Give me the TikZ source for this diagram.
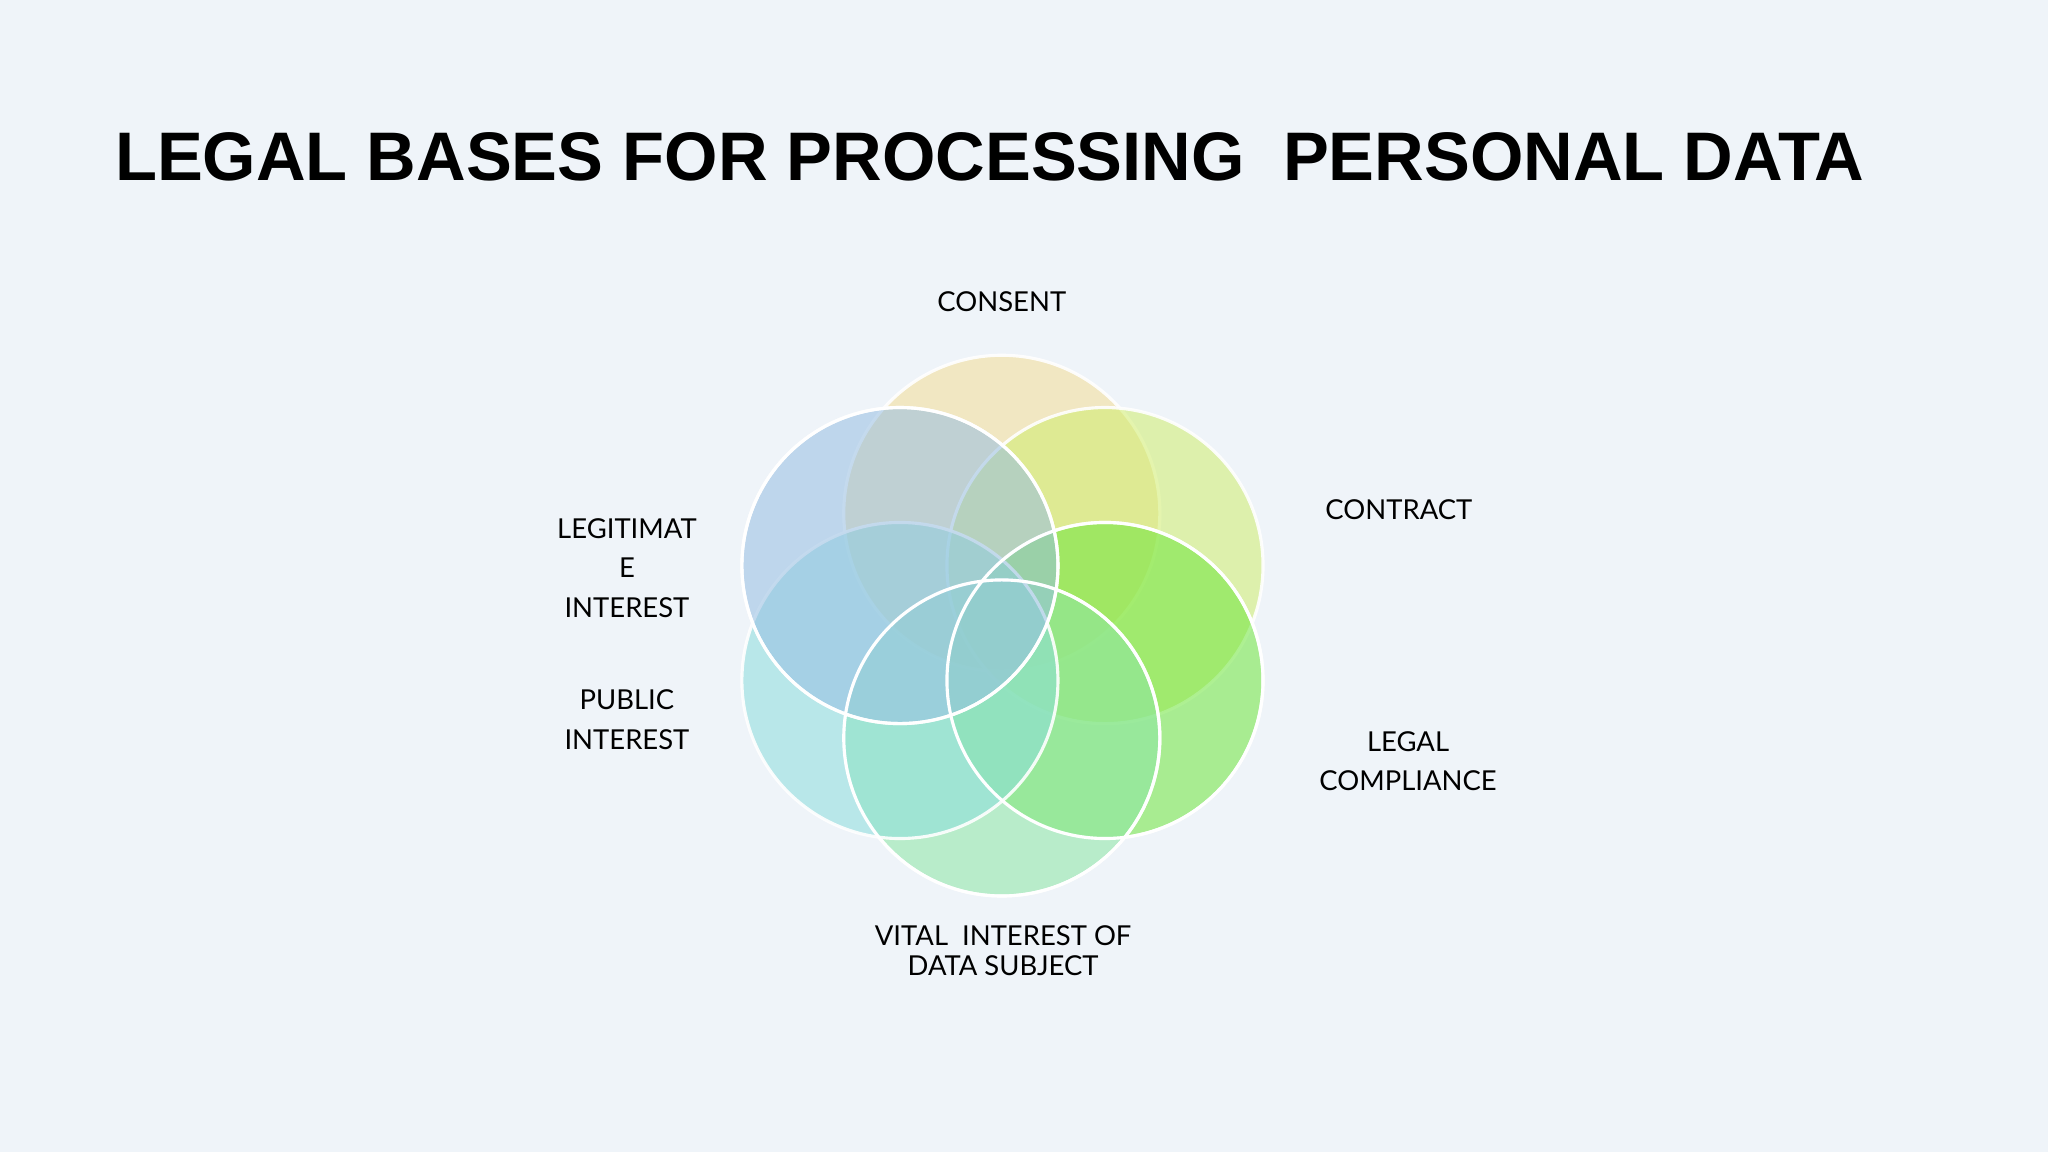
\documentclass[tikz,border=0pt]{standalone}
\usepackage{fontspec}
\setmainfont{Lato}
\newfontfamily\titlefont{Liberation Sans}
\begin{document}
\begin{tikzpicture}[x=0.5pt,y=-0.5pt]
\definecolor{bg}{HTML}{EFF4F9}
\tikzset{venn/.style={draw=white,line width=1.2pt,fill opacity=0.55,draw opacity=0.9},
  lbl/.style={font=\fontsize{10.5}{14}\selectfont,align=center,text=black}}
\fill[bg] (0,0) rectangle (1568,882);
\useasboundingbox (0,0) rectangle (1568,882);
\node[anchor=west,font=\titlefont\bfseries\fontsize{26.3}{30}\selectfont] (title) at (81,120) {LEGAL BASES FOR PROCESSING\ \ PERSONAL DATA};
\def\r{121}
\fill[venn,fill={rgb,255:red,244;green,222;blue,150}] (767,393) circle (\r);
\fill[venn,fill={rgb,255:red,208;green,238;blue,110}] (846,433) circle (\r);
\fill[venn,fill={rgb,255:red,110;green,230;blue,60}] (846,521) circle (\r);
\fill[venn,fill={rgb,255:red,140;green,230;blue,165}] (767,565) circle (\r);
\fill[venn,fill={rgb,255:red,140;green,222;blue,220}] (689,521) circle (\r);
\fill[venn,fill={rgb,255:red,150;green,190;blue,226}] (689,433) circle (\r);
\draw[white,line width=1.2pt] (689,433) circle (\r) (767,565) circle (\r) (846,521) circle (\r);
\node[lbl] (consent) at (767,231) {CONSENT};
\node[lbl] (contract) at (1071,390) {CONTRACT};
\node[lbl] (legal) at (1078,583) {LEGAL\\[1pt]COMPLIANCE};
\node[lbl,font=\fontsize{10.5}{11.5}\selectfont] (vital) at (768,728) {VITAL\ \ INTEREST OF\\DATA SUBJECT};
\node[lbl] (public) at (480,551) {PUBLIC\\[1pt]INTEREST};
\node[lbl,font=\fontsize{10.5}{15}\selectfont] (legit) at (480,435) {LEGITIMAT\\E\\INTEREST};
\end{tikzpicture}
\end{document}
